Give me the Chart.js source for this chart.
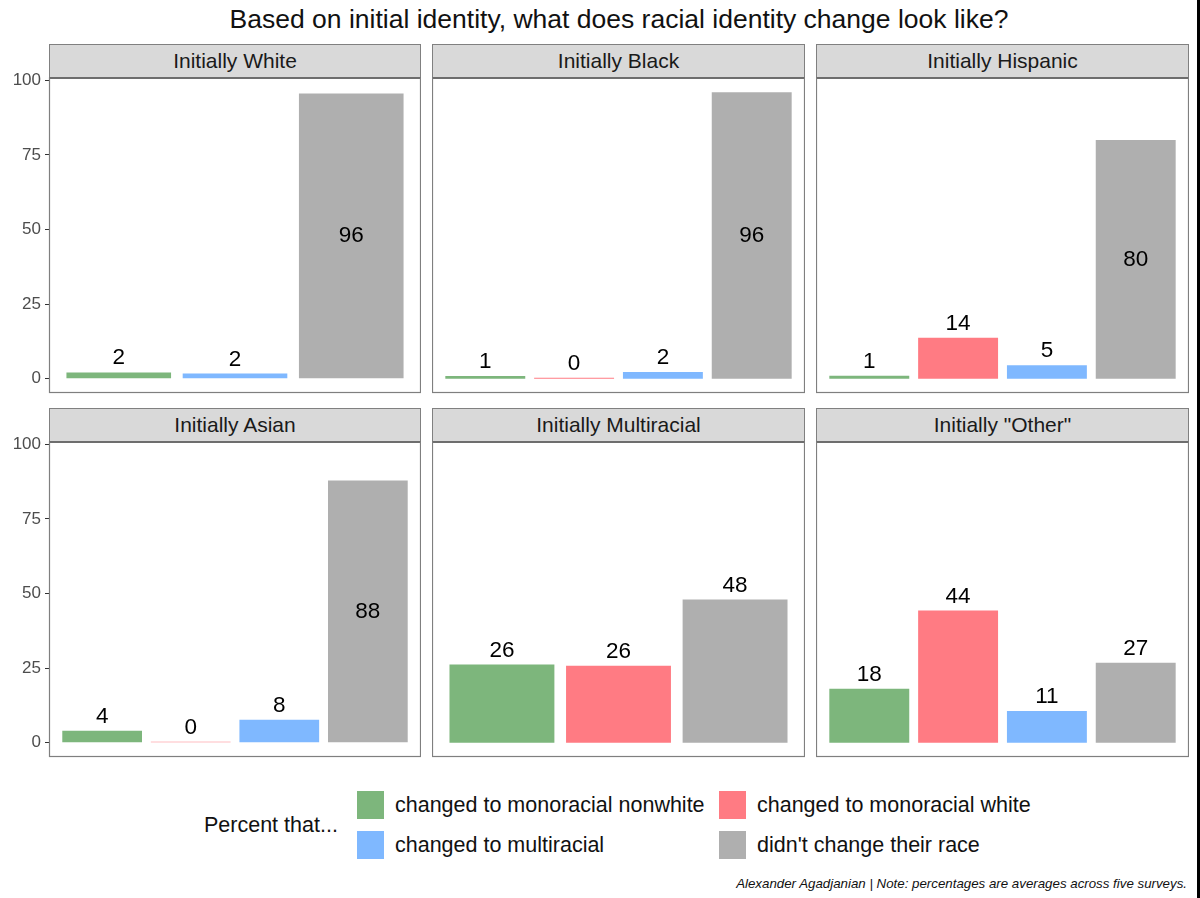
<!DOCTYPE html>
<html>
<head>
<meta charset="utf-8">
<script src="https://cdn.jsdelivr.net/npm/chart.js@4.4.1/dist/chart.umd.min.js"></script>
<style>
  body { margin: 0; background: #fff; font-family: "Liberation Sans", Arial, sans-serif; }
  #wrap { position: relative; width: 1200px; height: 898px; overflow: hidden; background: #fff; }
  .abs { position: absolute; }
  .strip { position: absolute; box-sizing: border-box; background: #d9d9d9; border: 1px solid #808080;
           border-bottom: 2px solid #555; color: #1a1a1a; font-size: 21px; text-align: center; }
  canvas { position: absolute; }
  .key { position: absolute; width: 27px; height: 28px; }
  .ltxt { position: absolute; font-size: 21.5px; color: #111; white-space: nowrap; line-height: 28px; }
</style>
</head>
<body>
<div id="wrap">
  <div class="abs" style="left:0;top:4px;width:1238px;text-align:center;font-size:26.5px;color:#111;">Based on initial identity, what does racial identity change look like?</div>
  <div class="abs" style="left:1197px;top:0;width:3px;height:898px;background:#000;"></div>
  <div id="legend"></div>
  <div class="abs" style="right:13px;top:876px;font-size:13.3px;font-style:italic;color:#111;">Alexander Agadjanian | Note: percentages are averages across five surveys.</div>
</div>
<script>
// facet titles and legend groups
const panels = ['Initially White', 'Initially Black', 'Initially Hispanic',
                'Initially Asian', 'Initially Multiracial', 'Initially "Other"'];
const groups = ['changed to monoracial nonwhite', 'changed to monoracial white',
                'changed to multiracial', "didn't change their race"];
const groupColors = ['#7db67c', '#ff7b83', '#7fb8ff', '#afafaf'];

// percent per panel (null = group not shown in that panel)
const nonwhite = [2.1, 0.9, 1.0, 4.0, 26.2, 18.1];
const white    = [null, 0.3, 13.7, 0.3, 25.8, 44.3];
const multi    = [1.7, 2.2, 4.5, 7.7, null, 10.6];
const same     = [95.6, 96.0, 80.0, 87.9, 48.0, 26.8];

const yTicks = [0, 25, 50, 75, 100];

// panel geometry
const colLeft = [49, 432, 816];
const colWidth = [372, 373, 373];
const rowTop = [44, 408];
const stripH = 34;
const panelH = 315;
const axisW = 49;

const wrap = document.getElementById('wrap');

// border round each panel
const borderPlugin = {
  id: 'panelBorder',
  afterDraw(chart) {
    const a = chart.chartArea, ctx = chart.ctx;
    ctx.save();
    ctx.strokeStyle = '#7f7f7f';
    ctx.lineWidth = 1.2;
    ctx.strokeRect(a.left + 0.5, a.top, a.right - a.left - 1, a.bottom - a.top - 0.5);
    ctx.restore();
  }
};

// value labels: inside middle for tall bars, above for the rest
const labelPlugin = {
  id: 'barLabels',
  afterDatasetsDraw(chart) {
    const ctx = chart.ctx;
    const meta = chart.getDatasetMeta(0);
    const data = chart.data.datasets[0].data;
    ctx.save();
    ctx.font = '22.5px "Liberation Sans", Arial, sans-serif';
    ctx.fillStyle = '#000';
    ctx.textAlign = 'center';
    meta.data.forEach((bar, i) => {
      const v = data[i].y;
      const txt = String(Math.round(v));
      if (v > 50) {
        ctx.textBaseline = 'middle';
        ctx.fillText(txt, bar.x, (bar.y + bar.base) / 2);
      } else {
        ctx.textBaseline = 'alphabetic';
        ctx.fillText(txt, bar.x, bar.y - 8);
      }
    });
    ctx.restore();
  }
};

panels.forEach((name, p) => {
  const row = Math.floor(p / 3), col = p % 3;
  const left = colLeft[col], top = rowTop[row], w = colWidth[col];

  const strip = document.createElement('div');
  strip.className = 'strip';
  strip.style.left = left + 'px';
  strip.style.top = top + 'px';
  strip.style.width = w + 'px';
  strip.style.height = (stripH + 1) + 'px';
  strip.style.lineHeight = (stripH - 2) + 'px';
  strip.textContent = name;
  wrap.appendChild(strip);

  const vals = [nonwhite[p], white[p], multi[p], same[p]];
  const points = [], colors = [];
  vals.forEach((v, g) => {
    if (v === null) return;
    points.push({ x: points.length + 1, y: v });
    colors.push(groupColors[g]);
  });

  const withAxis = col === 0;
  const cv = document.createElement('canvas');
  const cLeft = left - (withAxis ? axisW : 0);
  const cW = w + (withAxis ? axisW : 0);
  const cTop = top + stripH - 10;
  const cH = panelH + 20;
  cv.style.left = cLeft + 'px';
  cv.style.top = cTop + 'px';
  cv.style.width = cW + 'px';
  cv.style.height = cH + 'px';
  cv.width = cW; cv.height = cH;
  wrap.appendChild(cv);

  new Chart(cv.getContext('2d'), {
    type: 'bar',
    data: {
      datasets: [{
        data: points,
        backgroundColor: colors,
        borderWidth: 0,
        barPercentage: 0.9,
        categoryPercentage: 1.0
      }]
    },
    options: {
      responsive: false,
      animation: false,
      events: [],
      layout: { padding: { top: 10, bottom: 10, left: 0, right: 0 } },
      plugins: { legend: { display: false }, tooltip: { enabled: false } },
      scales: {
        x: {
          type: 'linear',
          offset: false,
          min: 0.4,
          max: points.length + 0.6,
          display: false,
          afterBuildTicks(scale) { scale.ticks = points.map(d => ({ value: d.x })); }
        },
        y: {
          min: -4.8,
          max: 100.8,
          display: withAxis,
          afterBuildTicks(scale) { scale.ticks = yTicks.map(v => ({ value: v })); },
          afterFit(scale) {
            if (withAxis) scale.width = axisW;
            scale.paddingTop = 0;
            scale.paddingBottom = 0;
          },
          border: { display: false },
          grid: { drawOnChartArea: false, drawTicks: true, tickLength: 4, color: '#333', tickColor: '#333' },
          ticks: { color: '#4d4d4d', padding: 4, font: { size: 17, family: '"Liberation Sans", Arial, sans-serif' } }
        }
      }
    },
    plugins: [borderPlugin, labelPlugin]
  });
});

// legend
const legend = document.getElementById('legend');
const lt = document.createElement('div');
lt.className = 'ltxt';
lt.style.left = '204px';
lt.style.top = '811px';
lt.textContent = 'Percent that...';
legend.appendChild(lt);
const keyX = [357, 719], keyY = [791, 831];
groups.forEach((g, i) => {
  const c = i % 2, r = Math.floor(i / 2);
  const k = document.createElement('div');
  k.className = 'key';
  k.style.left = keyX[c] + 'px';
  k.style.top = keyY[r] + 'px';
  k.style.background = groupColors[i];
  legend.appendChild(k);
  const t = document.createElement('div');
  t.className = 'ltxt';
  t.style.left = (keyX[c] + 38) + 'px';
  t.style.top = (keyY[r]) + 'px';
  t.textContent = g;
  legend.appendChild(t);
});
</script>
</body>
</html>
